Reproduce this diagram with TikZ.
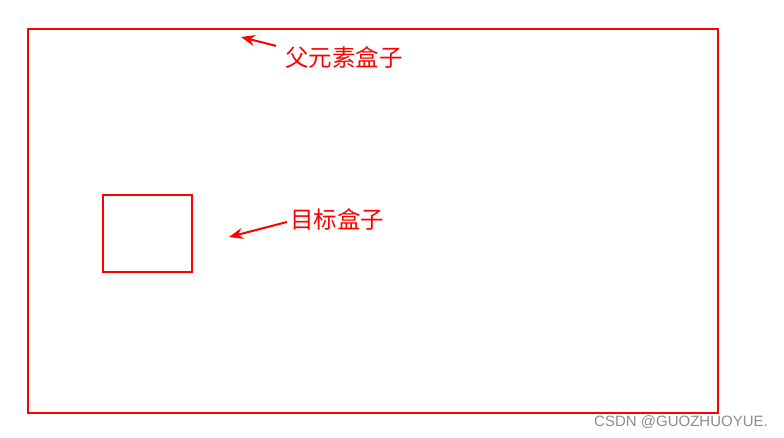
\documentclass[tikz,border=0pt]{standalone}
\usepackage{fontspec}
\newfontfamily\cjk{Noto Sans CJK SC}
\setsansfont{Liberation Sans}
\usetikzlibrary{arrows.meta,positioning}
\tikzset{
  redbox/.style={draw=red,line width=2pt,minimum width=#1},
  redlabel/.style={text=red,font=\cjk\fontsize{23.5}{26}\selectfont,inner sep=0pt,anchor=west},
  pointer/.style={draw=red,line width=2pt,-{Stealth[length=14pt,width=11pt]}}
}
\begin{document}
\begin{tikzpicture}[x=1pt,y=-1pt]
  \useasboundingbox (0,0) rectangle (784,438);
  \node (parent) [redbox=690pt,minimum height=384pt] at (373,221) {};
  \node (target) [redbox=89pt,minimum height=77pt] at (147.5,233.5) {};
  \node (parentlbl) [redlabel] at (285,58) {父元素盒子};
  \node (targetlbl) [redlabel] at (290,220) {目标盒子};
  \coordinate (parenttip) at (241,37);
  \coordinate (targettip) at (229,237);
  \draw[pointer] (parentlbl.north west) ++(-9,-1) -- (parenttip);
  \draw[pointer] (targetlbl.west) ++(-3,2) -- (targettip);
  \node (mark) [text=black!45,font=\sffamily\fontsize{15}{17}\selectfont,anchor=east,inner sep=0pt] at (768,422) {CSDN @GUOZHUOYUE.};
\end{tikzpicture}
\end{document}
